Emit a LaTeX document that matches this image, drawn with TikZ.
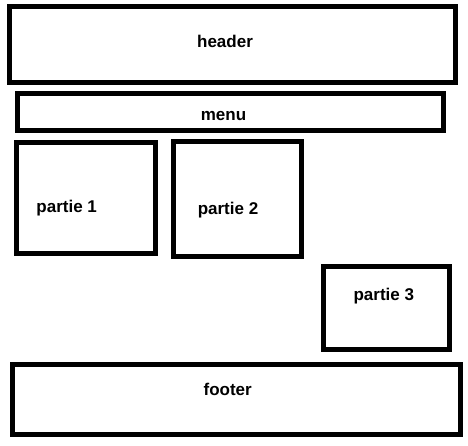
\documentclass[tikz,border=0pt]{standalone}
\usepackage{fontspec}
\setmainfont{Liberation Sans}

\tikzset{
    bloc/.style={line width=5pt},
    etiquette/.style={anchor=base, inner sep=0pt, font=\fontsize{17}{19}\selectfont\bfseries}
}

\begin{document}
\begin{tikzpicture}[x=1pt,y=-1pt]
    \useasboundingbox (0,0) rectangle (468,445);

    \draw[bloc] (9.5,6.5) rectangle (455,82);
    \node[etiquette] (header) at (225,47) {header};

    \draw[bloc] (17.5,93) rectangle (443.5,130);
    \node[etiquette] (menu) at (223.5,120.5) {menu};

    \draw[bloc] (16.5,142.5) rectangle (155,253.3);
    \node[etiquette] (partie1) at (66.7,212.2) {partie 1};
    \draw[bloc] (173.5,141) rectangle (301,256);
    \node[etiquette] (partie2) at (228,214.5) {partie 2};

    \draw[bloc] (323.5,266.5) rectangle (449,349);
    \node[etiquette] (partie3) at (383.8,300.5) {partie 3};

    \draw[bloc] (12.5,364.5) rectangle (460,434);
    \node[etiquette] (footer) at (227.7,395.3) {footer};
\end{tikzpicture}
\end{document}
